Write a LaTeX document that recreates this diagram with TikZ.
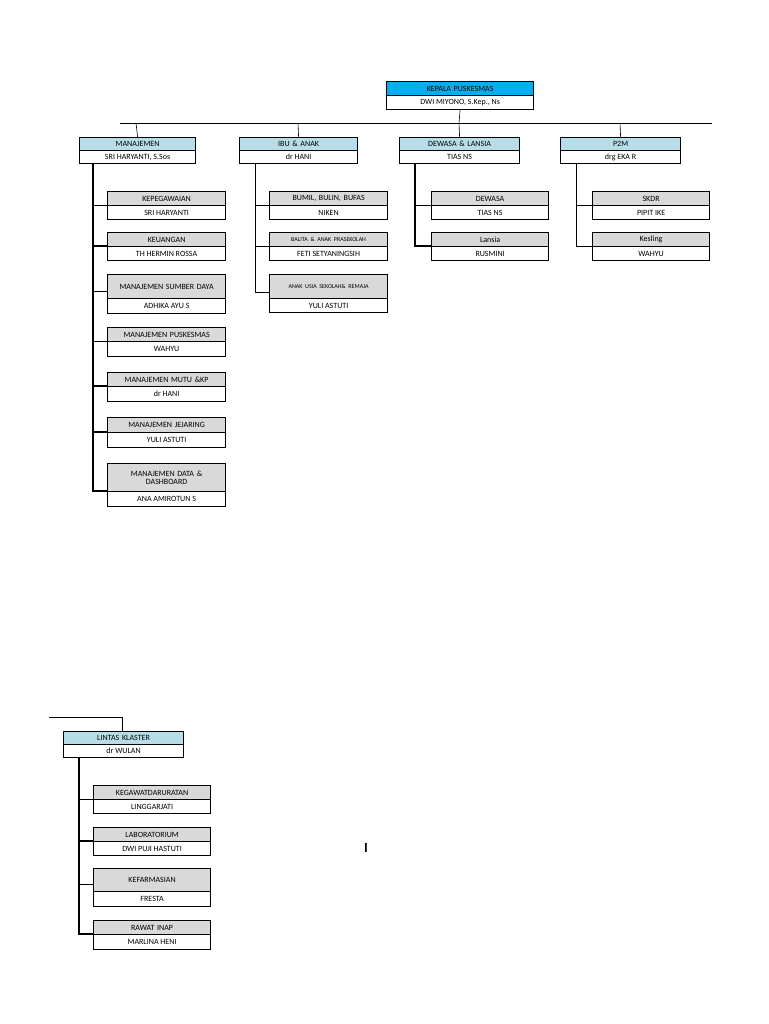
\documentclass[tikz,border=0pt]{standalone}
\usepackage{fontspec}
\setmainfont{Carlito}
\definecolor{topc}{RGB}{0,176,240}
\definecolor{lblue}{RGB}{183,222,232}
\definecolor{lgrey}{RGB}{217,217,217}
\tikzset{bx/.style={draw,line width=1.2pt,inner sep=0pt,anchor=north west,align=center,font=\fontsize{8}{8.5}\selectfont},
thk/.style={line width=1.3pt},thn/.style={line width=0.6pt}}
% name, x1, y1, ymid, x2, y2, fill, title, person
\newcommand\ubox[9]{%
\node[bx,fill=#7,minimum width=#5pt-#2pt,minimum height=#4pt-#3pt,text width=#5pt-#2pt-2pt] (#1t) at (#2,#3) {#8};
\node[bx,fill=white,minimum width=#5pt-#2pt,minimum height=#6pt-#4pt] (#1p) at (#2,#4) {#9};
\coordinate (#1m) at (#2,#4);}
\begin{document}
\begin{tikzpicture}[x=1pt,y=-1pt]
\useasboundingbox (0,0) rectangle (768,1024);
\ubox{k}{386}{81}{95}{533}{109}{topc}{KEPALA PUSKESMAS}{DWI MIYONO, S.Kep., Ns}
\ubox{m}{79}{137}{150}{195}{163}{lblue}{MANAJEMEN}{SRI HARYANTI, S.Sos}
\ubox{i}{239}{137}{150}{357}{163}{lblue}{IBU \& ANAK}{dr HANI}
\ubox{d}{399}{137}{150}{519}{163}{lblue}{DEWASA \& LANSIA}{TIAS NS}
\ubox{p}{560}{137}{150}{680}{163}{lblue}{P2M}{drg EKA R}
\coordinate (hl) at (120,123); \coordinate (hr) at (712,123);
\draw[thn] (hl) -- (hr);
\draw[thn] (kp.south) -- (459,123);
\draw[thn] (mt.north) -- (136,123);
\draw[thn] (it.north) -- (298,123);
\draw[thn] (dt.north) -- (459,123);
\draw[thn] (pt.north) -- (620,123);
% manajemen subs
\ubox{a1}{107}{191}{205}{225}{219}{lgrey}{KEPEGAWAIAN}{SRI HARYANTI}
\ubox{a2}{107}{232}{246}{225}{260}{lgrey}{KEUANGAN}{TH HERMIN ROSSA}
\ubox{a3}{107}{274}{298}{225}{313}{lgrey}{MANAJEMEN SUMBER DAYA}{ADHIKA AYU S}
\ubox{a4}{107}{327}{341}{225}{356}{lgrey}{MANAJEMEN PUSKESMAS}{WAHYU}
\ubox{a5}{107}{372}{386}{225}{401}{lgrey}{MANAJEMEN MUTU \&KP}{dr HANI}
\ubox{a6}{107}{417}{432}{225}{447}{lgrey}{MANAJEMEN JEJARING}{YULI ASTUTI}
\ubox{a7}{107}{463}{491}{225}{506}{lgrey}{MANAJEMEN DATA \&\\DASHBOARD}{ANA AMIROTUN S}
\draw[thk] (93,163) -- (93,491) -- (a7m);
\draw[thn] (93,205) -- (a1m); \draw[thk] (93,246) -- (a2m);
\draw[thn] (93,291) -- (107,291); \draw[thn] (93,341) -- (a4m);
\draw[thk] (93,386) -- (a5m); \draw[thk] (93,432) -- (a6m);
% ibu anak
\ubox{b1}{269}{191}{205}{387}{219}{lgrey}{BUMIL, BULIN, BUFAS}{NIKEN}
\ubox{b2}{269}{232}{246}{387}{260}{lgrey}{\fontsize{6}{6}\selectfont BALITA \& ANAK PRASEKOLAH}{FETI SETYANINGSIH}
\ubox{b3}{269}{274}{298}{387}{312}{lgrey}{\fontsize{6}{6}\selectfont ANAK USIA SEKOLAH\& REMAJA}{YULI ASTUTI}
\draw[thn] (255,163) -- (255,292) -- (269,292);
\draw[thn] (255,205) -- (b1m); \draw[thn] (255,246) -- (b2m);
% dewasa
\ubox{c1}{431}{191}{205}{548}{219}{lgrey}{DEWASA}{TIAS NS}
\ubox{c2}{431}{232}{246}{548}{260}{lgrey}{Lansia}{RUSMINI}
\draw[thk] (415,163) -- (415,246) -- (c2m); \draw[thn] (415,205) -- (c1m);
% p2m
\ubox{e1}{592}{191}{205}{709}{219}{lgrey}{SKDR}{PIPIT IKE}
\ubox{e2}{592}{232}{246}{709}{260}{lgrey}{Kesling}{WAHYU}
\draw[thn] (576,163) -- (576,246) -- (e2m); \draw[thn] (576,205) -- (e1m);
% lintas klaster
\ubox{l}{63}{731}{744}{183}{757}{lblue}{LINTAS KLASTER}{dr WULAN}
\coordinate (ll) at (49,717);
\draw[thn] (ll) -- (122,717) -- (lt.north -| 122,731);
\ubox{f1}{93}{785}{799}{210}{813}{lgrey}{KEGAWATDARURATAN}{LINGGARJATI}
\ubox{f2}{93}{827}{841}{210}{855}{lgrey}{LABORATORIUM}{DWI PUJI HASTUTI}
\ubox{f3}{93}{868}{891}{210}{906}{lgrey}{KEFARMASIAN}{FRESTA}
\ubox{f4}{93}{920}{934}{210}{949}{lgrey}{RAWAT INAP}{MARLINA HENI}
\draw[thk] (79,757) -- (79,934) -- (f4m);
\draw[thn] (79,799) -- (f1m); \draw[thk] (79,841) -- (f2m);
\draw[thn] (79,884) -- (93,884);
\node[font=\bfseries\fontsize{14}{14}\selectfont] (bar) at (366,848) {I};
\end{tikzpicture}
\end{document}
